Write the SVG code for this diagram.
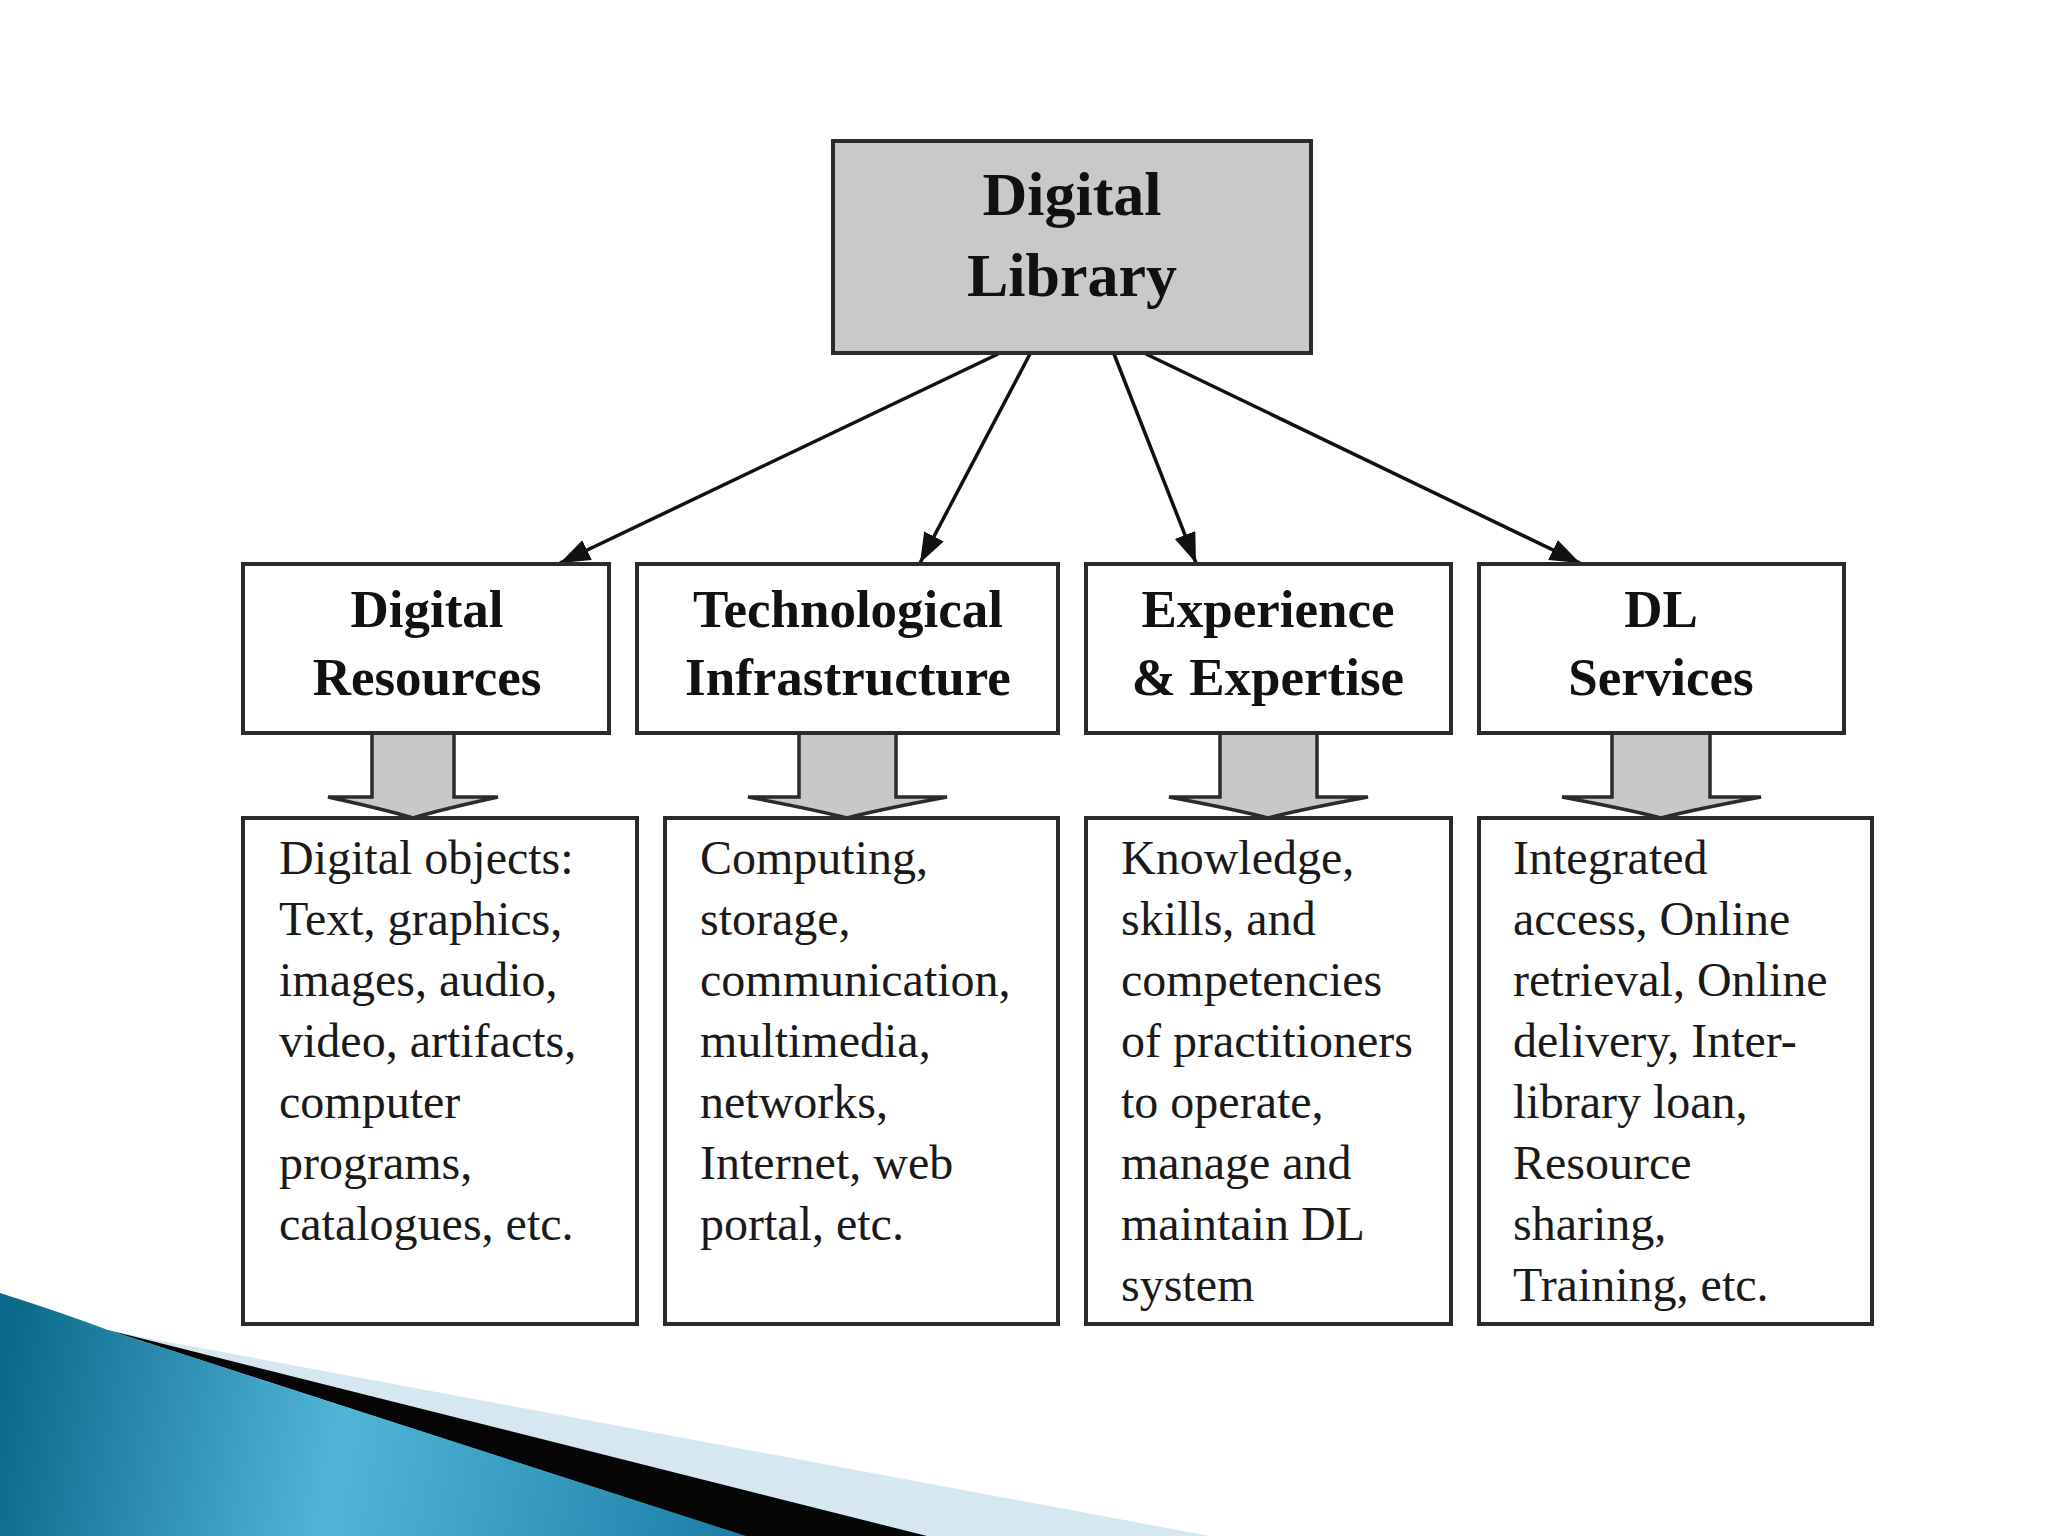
<svg xmlns="http://www.w3.org/2000/svg" width="2048" height="1536" viewBox="0 0 2048 1536">
<style>
  .box { fill: #ffffff; stroke: #2b2b2b; stroke-width: 4; }
  .topbox { fill: #c9c9c9; stroke: #2b2b2b; stroke-width: 4; }
  .blk { fill: #c8c8c8; stroke: #2b2b2b; stroke-width: 3.5; stroke-linejoin: miter; }
  .conn { stroke: #111111; stroke-width: 3.5; fill: none; marker-end: url(#ah); }
  .tmain { font-family: "Liberation Serif", "Times New Roman", serif; font-weight: bold; font-size: 62px; text-anchor: middle; fill: #111; }
  .tmid { font-family: "Liberation Serif", "Times New Roman", serif; font-weight: bold; font-size: 53px; text-anchor: middle; fill: #111; }
  .tbody { font-family: "Liberation Serif", "Times New Roman", serif; font-size: 48px; fill: #1a1a1a; }
</style>
<defs>
  <marker id="ah" markerUnits="userSpaceOnUse" markerWidth="32" markerHeight="24" refX="30" refY="11" orient="auto">
    <path d="M0,0 L30,11 L0,22 z" fill="#111111"/>
  </marker>
  <linearGradient id="bluegrad" gradientUnits="userSpaceOnUse" x1="0" y1="1400" x2="746" y2="1536">
    <stop offset="0" stop-color="#0b6a8a"/>
    <stop offset="0.45" stop-color="#52b5d8"/>
    <stop offset="1" stop-color="#1a7ea5"/>
  </linearGradient>
</defs>
<rect x="0" y="0" width="2048" height="1536" fill="#ffffff"/>

<!-- decoration -->
<g id="decoration">
  <polygon points="120,1333 1210,1536 740,1536" fill="#d5e7f0"/>
  <polygon points="108,1330 927,1536 744,1536" fill="#050505"/>
  <path d="M0,1293 Q60,1312 108,1330 L746,1536 L0,1536 Z" fill="url(#bluegrad)"/>
</g>

<!-- connectors -->
<g id="connectors">
  <line class="conn" x1="998" y1="354" x2="560" y2="563"/>
  <line class="conn" x1="1030" y1="354" x2="920" y2="563"/>
  <line class="conn" x1="1114" y1="354" x2="1196" y2="563"/>
  <line class="conn" x1="1146" y1="354" x2="1580" y2="563"/>
  <path class="blk" d="M372,733 L454,733 L454,797 L498,797 Q439,810 413,818 Q387,810 328,797 L372,797 Z"/>
  <path class="blk" d="M799,733 L896,733 L896,797 L947,797 Q877,810 847,818 Q817,810 748,797 L799,797 Z"/>
  <path class="blk" d="M1220,733 L1317,733 L1317,797 L1368,797 Q1298,810 1268,818 Q1238,810 1169,797 L1220,797 Z"/>
  <path class="blk" d="M1612,733 L1710,733 L1710,797 L1761,797 Q1691,810 1661,818 Q1631,810 1562,797 L1612,797 Z"/>
</g>

<g id="node-digital-library">
  <rect class="topbox" x="833" y="141" width="478" height="212"/>
  <text class="tmain" x="1072" y="215">Digital</text>
  <text class="tmain" x="1072" y="296">Library</text>
</g>

<g id="node-digital-resources">
  <rect class="box" x="243" y="564" width="366" height="169"/>
  <text class="tmid" x="427" y="627">Digital</text>
  <text class="tmid" x="427" y="695">Resources</text>
</g>
<g id="node-tech-infra">
  <rect class="box" x="637" y="564" width="421" height="169"/>
  <text class="tmid" x="848" y="627">Technological</text>
  <text class="tmid" x="848" y="695">Infrastructure</text>
</g>
<g id="node-experience">
  <rect class="box" x="1086" y="564" width="365" height="169"/>
  <text class="tmid" x="1268" y="627">Experience</text>
  <text class="tmid" x="1268" y="695">&amp; Expertise</text>
</g>
<g id="node-dl-services">
  <rect class="box" x="1479" y="564" width="365" height="169"/>
  <text class="tmid" x="1661" y="627">DL</text>
  <text class="tmid" x="1661" y="695">Services</text>
</g>

<g id="node-resources-detail">
  <rect class="box" x="243" y="818" width="394" height="506"/>
  <text class="tbody" x="279" y="874">Digital objects:</text>
  <text class="tbody" x="279" y="935">Text, graphics,</text>
  <text class="tbody" x="279" y="996">images, audio,</text>
  <text class="tbody" x="279" y="1057">video, artifacts,</text>
  <text class="tbody" x="279" y="1118">computer</text>
  <text class="tbody" x="279" y="1179">programs,</text>
  <text class="tbody" x="279" y="1240">catalogues, etc.</text>
</g>
<g id="node-infra-detail">
  <rect class="box" x="665" y="818" width="393" height="506"/>
  <text class="tbody" x="700" y="874">Computing,</text>
  <text class="tbody" x="700" y="935">storage,</text>
  <text class="tbody" x="700" y="996">communication,</text>
  <text class="tbody" x="700" y="1057">multimedia,</text>
  <text class="tbody" x="700" y="1118">networks,</text>
  <text class="tbody" x="700" y="1179">Internet, web</text>
  <text class="tbody" x="700" y="1240">portal, etc.</text>
</g>
<g id="node-experience-detail">
  <rect class="box" x="1086" y="818" width="365" height="506"/>
  <text class="tbody" x="1121" y="874">Knowledge,</text>
  <text class="tbody" x="1121" y="935">skills, and</text>
  <text class="tbody" x="1121" y="996">competencies</text>
  <text class="tbody" x="1121" y="1057">of practitioners</text>
  <text class="tbody" x="1121" y="1118">to operate,</text>
  <text class="tbody" x="1121" y="1179">manage and</text>
  <text class="tbody" x="1121" y="1240">maintain DL</text>
  <text class="tbody" x="1121" y="1301">system</text>
</g>
<g id="node-services-detail">
  <rect class="box" x="1479" y="818" width="393" height="506"/>
  <text class="tbody" x="1513" y="874">Integrated</text>
  <text class="tbody" x="1513" y="935">access, Online</text>
  <text class="tbody" x="1513" y="996">retrieval, Online</text>
  <text class="tbody" x="1513" y="1057">delivery, Inter-</text>
  <text class="tbody" x="1513" y="1118">library loan,</text>
  <text class="tbody" x="1513" y="1179">Resource</text>
  <text class="tbody" x="1513" y="1240">sharing,</text>
  <text class="tbody" x="1513" y="1301">Training, etc.</text>
</g>
</svg>
